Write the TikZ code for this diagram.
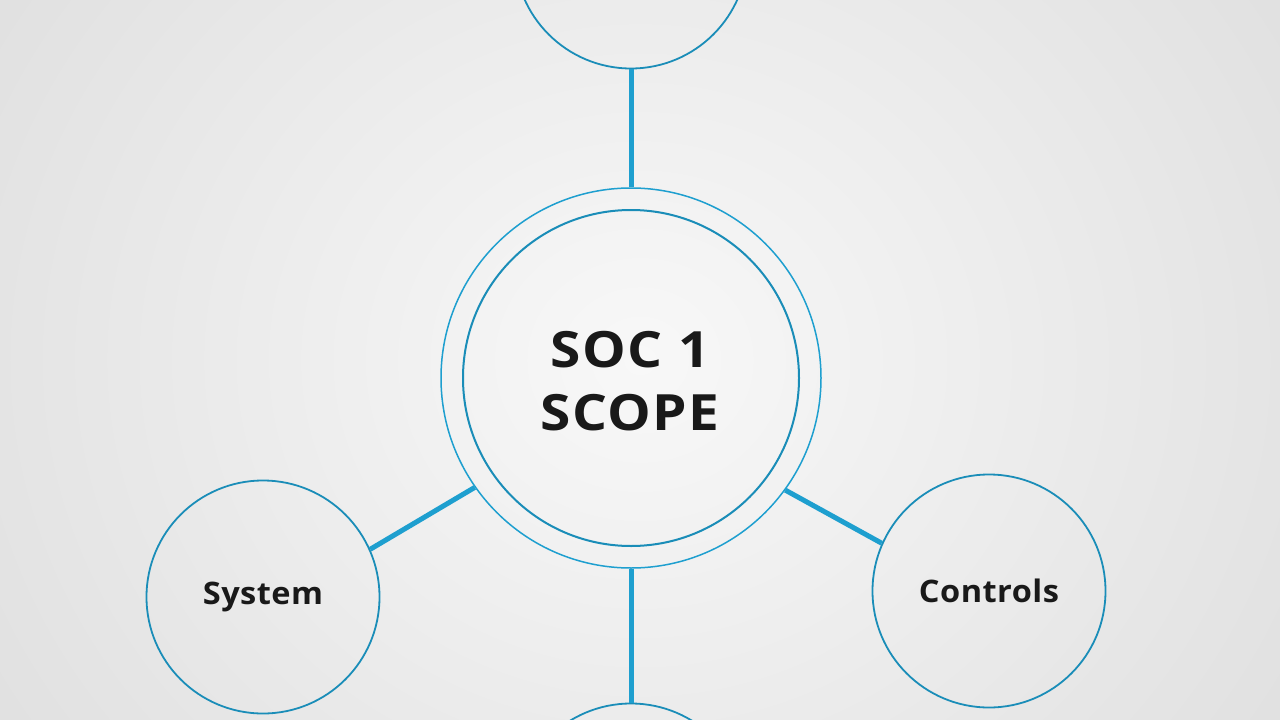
\documentclass[tikz,border=0pt]{standalone}
\usepackage{fontspec}
\setmainfont{Open Sans}
\newfontfamily\titelschrift[FakeStretch=1.1,LetterSpace=3]{Open Sans}
\newfontfamily\kreisschrift[FakeStretch=1.05,LetterSpace=1.5]{Open Sans}
\definecolor{ringblau}{HTML}{1A8DB8}
\definecolor{linienblau}{HTML}{1E9FCF}
\definecolor{randgrau}{HTML}{DEDEDE}
\definecolor{mittegrau}{HTML}{F8F8F8}
\begin{document}
\begin{tikzpicture}[x=1pt,y=-1pt,
		kreis/.style={circle,draw=ringblau,line width=1.8pt,minimum size=233pt,inner sep=0pt,text=black!90,font=\kreisschrift\bfseries\fontsize{31}{36}\selectfont},
		verbindung/.style={linienblau,line width=5pt}]
	\useasboundingbox (0,0) rectangle (1280,720);
	\clip (0,0) rectangle (1280,720);
	% Hintergrund
	\shade[inner color=mittegrau,outer color=randgrau] (-200,-400) rectangle (1480,1120);
	% Kern
	\node[kreis,draw=linienblau,line width=1.5pt,minimum size=380pt] (kern) at (631,378) {};
	\draw[ringblau,line width=2pt] (kern.center) circle (168);
	\node[align=center,text=black!90,font=\titelschrift\bfseries\fontsize{50}{63}\selectfont] (titel) at (630,381) {SOC 1\\SCOPE};
	% aeussere Kreise
	\node[kreis] (oben) at (631,-48) {};
	\node[kreis] (system) at (263,597) {System};
	\node[kreis] (controls) at (989,591) {Controls};
	\node[kreis] (unten) at (631,820) {};
	% Verbindungen
	\draw[verbindung] (kern) -- (oben);
	\draw[verbindung] (kern.215) -- (system.24);
	\draw[verbindung] (kern.-36) -- (controls.156);
	\draw[verbindung] (kern) -- (unten);
\end{tikzpicture}
\end{document}
